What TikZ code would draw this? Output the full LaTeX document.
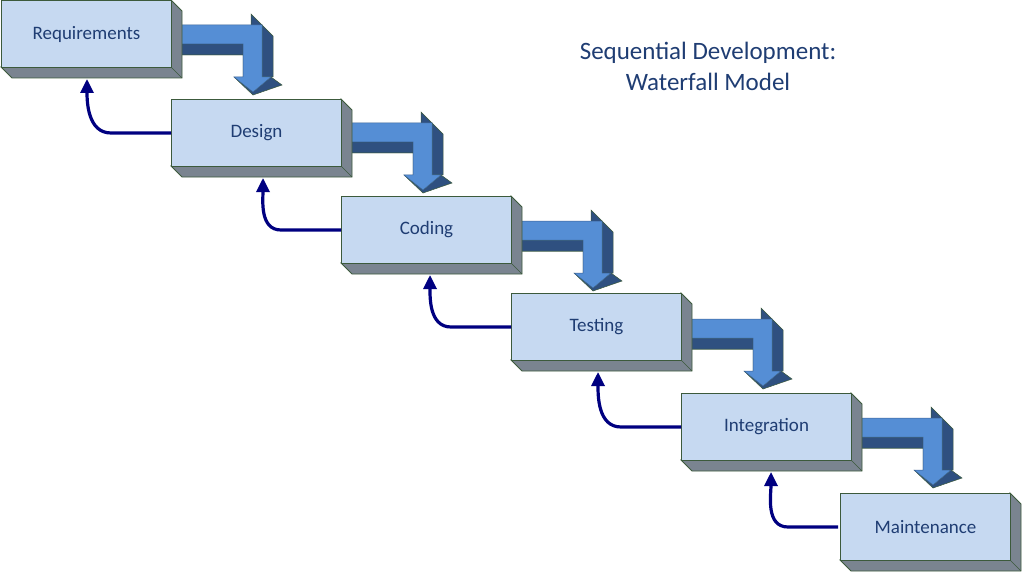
\documentclass[tikz,border=0pt]{standalone}
\usepackage{fontspec}
\setmainfont{Carlito}
\usetikzlibrary{arrows.meta,calc}
\definecolor{face}{HTML}{C6D9F1}
\definecolor{side}{HTML}{7A8490}
\definecolor{edge}{HTML}{3C5A3C}
\definecolor{txt}{HTML}{1F3D73}
\definecolor{arr}{HTML}{558ED5}
\definecolor{arrd}{HTML}{2F5080}
\definecolor{navy}{HTML}{000080}
\tikzset{x=1pt,y=-1pt,
 box/.style={draw=edge,line width=1pt,fill=face,minimum width=170pt,minimum height=67pt,inner sep=0pt,font=\fontsize{19}{22}\selectfont,text=txt,anchor=north west},
 back/.style={->,>={Triangle[length=14pt,width=13pt]},draw=navy,line width=3.2pt}}
\begin{document}
\begin{tikzpicture}
\useasboundingbox (0,0) rectangle (1024,572);
\newcommand\stage[4]{%
 % #1 name #2 x #3 y #4 text
 \fill[side,draw=edge,line width=0.8pt] (#2,#3+67) -- ++(11,11) -- ++(170,0) -- ++(0,-67) -- ++(-11,-11) -- ++(0,67) -- cycle;
 \draw[edge,line width=0.6pt] (#2+170,#3+67) -- ++(11,11);
 \node[box] (#1) at (#2,#3) {#4};}
\newcommand\fall[2]{%
 \begin{scope}[shift={(#1,#2)}]
 \fill[arrd,draw=edge,line width=0.5pt] (0,19) -- (72,19) -- (72,52) -- (83,52) -- (83,63) -- (100,52) -- (91,44) -- (91,0) -- (80,-11) -- (80,19) -- (72,19) -- (72,30)--(0,30)--cycle;
 \fill[arrd,draw=edge,line width=0.5pt] (0,19) -- (11,30) -- (72,30) -- (72,19) -- cycle;
 \fill[arrd,draw=edge,line width=0.5pt] (91,0) -- (102,11) -- (102,52) -- (91,52) -- cycle;
 \fill[arrd,draw=edge,line width=0.5pt] (63,52) -- (82,70) -- (111,60) -- (100,52) -- (82,67) -- cycle;
 \fill[arr,draw=arr!70!black,line width=0.5pt] (0,0) -- (91,0) -- (91,52) -- (100,52) -- (82,67) -- (63,52) -- (72,52) -- (72,19) -- (0,19) -- cycle;
 \end{scope}}
\fall{171}{25}
\fall{341}{123}
\fall{511}{221}
\fall{681}{319}
\fall{851}{418}
\stage{req}{1}{0}{Requirements}
\stage{des}{171}{99}{Design}
\stage{cod}{341}{196}{Coding}
\stage{tes}{511}{293}{Testing}
\stage{int}{681}{393}{Integration}
\stage{mai}{840}{493}{Maintenance}
\draw[back] (des.west) -- ++(-60,0) to[out=180,in=270] ($(req.south west)+(86,11)$);
\draw[back] (cod.west) -- ++(-60,0) to[out=180,in=270] ($(des.south west)+(92,11)$);
\draw[back] (tes.west) -- ++(-60,0) to[out=180,in=270] ($(cod.south west)+(89,11)$);
\draw[back] (int.west) -- ++(-60,0) to[out=180,in=270] ($(tes.south west)+(87,11)$);
\draw[back] (mai.west) ++(-2,0) -- ++(-50,0) to[out=180,in=270] ($(int.south west)+(90,11)$);
\node[text=txt,font=\fontsize{25}{31}\selectfont,align=center] (title) at (708,66) {Sequential Development:\\Waterfall Model};
\end{tikzpicture}
\end{document}
